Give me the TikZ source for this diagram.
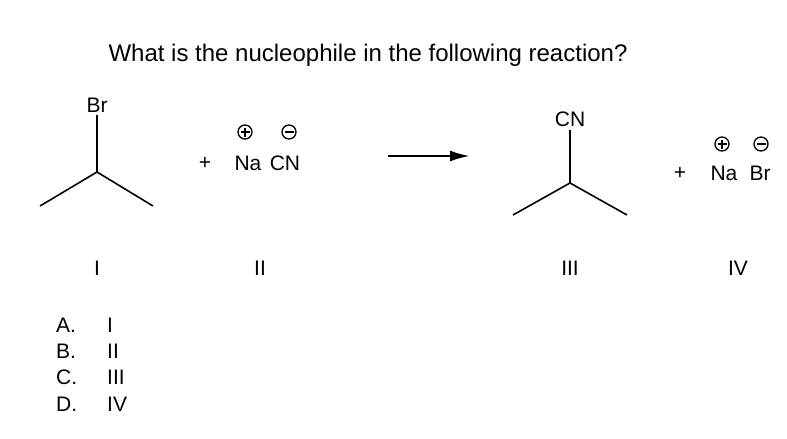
\documentclass[tikz,border=0pt]{standalone}
\usepackage{fontspec}
\setmainfont{Liberation Sans}
\usetikzlibrary{arrows.meta}
\begin{document}
\begin{tikzpicture}[x=1pt,y=-1pt,
  lbl/.style={inner sep=0pt,font=\fontsize{21}{24}\selectfont},
  bond/.style={line width=1.6pt},
  chg/.style={circle,draw,line width=1.3pt,minimum size=14pt,inner sep=0pt}]
\useasboundingbox (0,0) rectangle (787,439);
\node[inner sep=0pt,font=\fontsize{24}{28}\selectfont] (title) at (368,55) {What is the nucleophile in the following reaction?};
% reactant I
\node[lbl] (br1) at (97,105) {Br};
\coordinate (c1) at (97,172);
\coordinate (l1) at (40,206);
\coordinate (r1) at (153,206);
\draw[bond] ([yshift=-3pt]br1.south) -- (c1);
\draw[bond] (l1) -- (c1) -- (r1);
\node[lbl] (n1) at (97,268) {I};
% II
\node[lbl] (p1) at (205,163) {+};
\node[lbl] (na1) at (248,163) {Na};
\node[lbl] (cn1) at (285,163) {CN};
\node[chg] (pc1) at (245,132) {}; \draw[line width=1.3pt] ([xshift=-4.5pt]pc1.center) -- ([xshift=4.5pt]pc1.center) ([yshift=-4.5pt]pc1.center) -- ([yshift=4.5pt]pc1.center);
\node[chg] (mc1) at (289,132) {}; \draw[line width=1.3pt] ([xshift=-4.5pt]mc1.center) -- ([xshift=4.5pt]mc1.center);
\node[lbl] (n2) at (260,268) {II};
% arrow
\coordinate (a1) at (388,156);
\coordinate (a2) at (470,156);
\draw[line width=2.5pt,-{Latex[length=20pt,width=11pt]}] (a1) -- (a2);
% III
\node[lbl] (cn2) at (570,119) {CN};
\coordinate (c3) at (570,183);
\coordinate (l3) at (513,215);
\coordinate (r3) at (627,215);
\draw[bond] ([yshift=-3pt]cn2.south) -- (c3);
\draw[bond] (l3) -- (c3) -- (r3);
\node[lbl] (n3) at (570,268) {III};
% IV
\node[lbl] (p2) at (680,173) {+};
\node[lbl] (na2) at (724,173) {Na};
\node[lbl] (br2) at (760,173) {Br};
\node[chg] (pc2) at (722,144) {}; \draw[line width=1.3pt] ([xshift=-4.5pt]pc2.center) -- ([xshift=4.5pt]pc2.center) ([yshift=-4.5pt]pc2.center) -- ([yshift=4.5pt]pc2.center);
\node[chg] (mc2) at (761,144) {}; \draw[line width=1.3pt] ([xshift=-4.5pt]mc2.center) -- ([xshift=4.5pt]mc2.center);
\node[lbl] (n4) at (738,268) {IV};
% answers
\node[lbl,anchor=west] (qa) at (56,325) {A.};
\node[lbl,anchor=west] (qb) at (56,351) {B.};
\node[lbl,anchor=west] (qc) at (56,377) {C.};
\node[lbl,anchor=west] (qd) at (56,404) {D.};
\node[lbl,anchor=west] (aa) at (107,325) {I};
\node[lbl,anchor=west] (ab) at (107,351) {II};
\node[lbl,anchor=west] (ac) at (107,377) {III};
\node[lbl,anchor=west] (ad) at (107,404) {IV};
\end{tikzpicture}
\end{document}
